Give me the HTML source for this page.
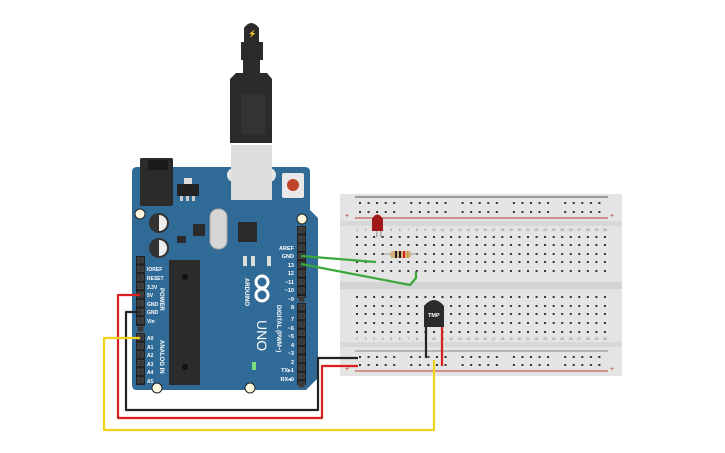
<!DOCTYPE html>
<html><head><meta charset="utf-8"><style>
html,body{margin:0;padding:0;background:#fff;width:725px;height:453px;overflow:hidden}
svg{display:block}
text{font-family:"Liberation Sans",sans-serif}
</style></head><body>
<svg id="s" width="725" height="453" viewBox="0 0 725 453" xmlns="http://www.w3.org/2000/svg">
<!-- breadboard -->
<rect x="340" y="194" width="282" height="182" fill="#e4e4e4" rx="2"/>
<rect x="340" y="221" width="282" height="5" fill="#d8d8d8"/>
<rect x="340" y="282" width="282" height="7" fill="#d4d4d4"/>
<rect x="340" y="342" width="282" height="5" fill="#d8d8d8"/>
<line x1="355" y1="197" x2="608" y2="197" stroke="#555" stroke-width="1"/>
<line x1="355" y1="218" x2="608" y2="218" stroke="#c0392b" stroke-width="1"/>
<line x1="355" y1="351" x2="608" y2="351" stroke="#888" stroke-width="1"/>
<line x1="355" y1="371" x2="608" y2="371" stroke="#c0392b" stroke-width="1"/>
<text x="345" y="218" font-size="7" fill="#c0392b">+</text>
<text x="610" y="218" font-size="7" fill="#c0392b">+</text>
<text x="345" y="371" font-size="7" fill="#c0392b">+</text>
<text x="610" y="371" font-size="7" fill="#c0392b">+</text>
<g id="dots"></g>
<!-- Arduino -->
<rect x="140" y="158" width="33" height="48" fill="#2b2b2b" rx="2"/>
<path d="M132 172 Q132 167 137 167 L305 167 Q310 167 310 172 L310 210 L318 218 L318 378 L306 390 L137 390 Q132 390 132 385 Z" fill="#306a97"/>
<rect x="140" y="158" width="33" height="48" fill="#2b2b2b" rx="2"/>
<rect x="148" y="160" width="20" height="10" fill="#1a1a1a"/>
<rect x="177" y="184" width="22" height="12" fill="#222"/>
<rect x="184" y="178" width="8" height="6" fill="#ddd"/>
<rect x="180" y="196" width="3" height="5" fill="#ccc"/><rect x="186" y="196" width="3" height="5" fill="#ccc"/><rect x="192" y="196" width="3" height="5" fill="#ccc"/>
<rect x="282" y="173" width="22" height="25" fill="#e8e8e8" rx="2"/>
<circle cx="293" cy="185" r="6" fill="#c0452a"/>
<circle cx="140" cy="214" r="5" fill="#fff8e0" stroke="#222"/>
<circle cx="302" cy="219" r="5" fill="#fff8e0" stroke="#222"/>
<circle cx="157" cy="388" r="5" fill="#fff8e0" stroke="#222"/>
<circle cx="250" cy="388" r="5" fill="#fff8e0" stroke="#222"/>
<circle cx="159" cy="223" r="9" fill="#eee" stroke="#333" stroke-width="2"/><path d="M159 214 A9 9 0 0 0 159 232 Z" fill="#333"/>
<circle cx="159" cy="248" r="9" fill="#eee" stroke="#333" stroke-width="2"/><path d="M159 239 A9 9 0 0 0 159 257 Z" fill="#333"/>
<rect x="210" y="209" width="17" height="40" rx="8" fill="#d6d6d6" stroke="#aaa"/>
<rect x="193" y="224" width="12" height="12" fill="#2b2b2b"/>
<rect x="177" y="236" width="9" height="7" fill="#2b2b2b"/>
<rect x="238" y="222" width="19" height="20" fill="#2b2b2b"/>
<rect x="169" y="260" width="31" height="125" fill="#2b2b2b"/>
<circle cx="185" cy="277" r="3" fill="#111"/><circle cx="185" cy="367" r="3" fill="#111"/>
<rect x="243" y="256" width="4" height="10" fill="#ddd"/><rect x="251" y="256" width="4" height="10" fill="#ddd"/><rect x="267" y="256" width="4" height="10" fill="#ddd"/>
<rect x="252" y="362" width="4" height="8" fill="#7be07b"/>
<!-- headers -->
<rect x="297" y="226" width="9" height="72" fill="#222"/>
<rect x="297" y="303" width="9" height="82" fill="#222"/>
<rect x="136" y="256" width="9" height="70" fill="#222"/>
<rect x="136" y="333" width="9" height="52" fill="#222"/>
<g id="pins"></g>
<g font-size="5.5" fill="#fff" font-weight="bold" text-anchor="end">
<text x="294" y="250">AREF</text><text x="294" y="258">GND</text><text x="294" y="267">13</text><text x="294" y="275">12</text><text x="294" y="284">~11</text><text x="294" y="292">~10</text><text x="294" y="301">~9</text><text x="294" y="309">8</text>
<text x="294" y="321">7</text><text x="294" y="330">~6</text><text x="294" y="338">~5</text><text x="294" y="347">4</text><text x="294" y="355">~3</text><text x="294" y="364">2</text><text x="294" y="372">TX▸1</text><text x="294" y="381">RX◂0</text>
</g>
<g font-size="5" fill="#fff" font-weight="bold">
<text x="147" y="271">IOREF</text><text x="147" y="280">RESET</text><text x="147" y="289">3.3V</text><text x="147" y="297">5V</text><text x="147" y="306">GND</text><text x="147" y="314">GND</text><text x="147" y="323">Vin</text>
<text x="147" y="340">A0</text><text x="147" y="349">A1</text><text x="147" y="357">A2</text><text x="147" y="366">A3</text><text x="147" y="374">A4</text><text x="147" y="383">A5</text>
</g>
<text transform="translate(160,288) rotate(90)" font-size="6" fill="#fff" font-weight="bold">POWER</text>
<text transform="translate(160,340) rotate(90)" font-size="6" fill="#fff" font-weight="bold">ANALOG IN</text>
<text transform="translate(277,305) rotate(90)" font-size="6" fill="#fff" font-weight="bold">DIGITAL (PWM~)</text>
<text transform="translate(245,278) rotate(90)" font-size="6" fill="#fff" font-weight="bold">ARDUINO</text>
<text transform="translate(257,320) rotate(90)" font-size="14" fill="#fff">UNO</text>
<g fill="none" stroke="#fff" stroke-width="3"><circle cx="262" cy="282" r="6"/><circle cx="262" cy="295" r="6"/></g>
<!-- USB -->
<rect x="231" y="145" width="41" height="55" fill="#dcdcdc"/>
<rect x="227" y="168" width="49" height="14" rx="7" fill="#e6e6e6"/>
<rect x="231" y="145" width="41" height="55" fill="#dcdcdc"/>
<path d="M244 42 L244 28 Q251 18 259 28 L259 42 Z" fill="#2b2b2b"/>
<rect x="241" y="42" width="22" height="18" fill="#2b2b2b"/>
<rect x="243" y="60" width="17" height="14" fill="#2b2b2b"/>
<path d="M236 73 L267 73 L272 79 L272 143 L230 143 L230 79 Z" fill="#2b2b2b"/>
<rect x="241" y="94" width="24" height="40" fill="#333"/>
<text x="248" y="36" font-size="7" fill="#f1c40f">⚡</text>
<!-- wires -->
<g fill="none" stroke-width="2.2" stroke-linejoin="round">
<polyline points="140,295 118,295 118,418 322,418 322,366 358,366" stroke="#d91e1e"/>
<polyline points="140,312 126,312 126,410 318,410 318,358 358,358" stroke="#222"/>
<polyline points="140,338 104,338 104,430 434,430 434,360" stroke="#f2d21b"/>
<polyline points="301,256 376,262" stroke="#3aa83a"/>
<polyline points="301,264 410,285 416,278 416,271" stroke="#3aa83a"/>
<line x1="426" y1="325" x2="426" y2="358" stroke="#222"/>
<line x1="442" y1="325" x2="442" y2="366" stroke="#d91e1e"/>
</g>
<!-- TMP -->
<path d="M424 327 L424 306 Q434 294 444 306 L444 327 Z" fill="#2b2b2b"/>
<text x="428" y="317" font-size="5.5" fill="#fff" font-weight="bold">TMP</text>
<!-- LED -->
<rect x="376" y="226" width="1.5" height="11" fill="#aaa"/><rect x="380" y="226" width="1.5" height="11" fill="#aaa"/>
<path d="M372 231 L372 219 Q377 210 383 219 L383 231 Z" fill="#a01818"/>
<!-- resistor -->
<line x1="384" y1="254" x2="417" y2="254" stroke="#aaa" stroke-width="1.2"/>
<rect x="390" y="251" width="21" height="7" rx="3" fill="#d8b07a"/>
<rect x="395" y="251" width="2" height="7" fill="#222"/><rect x="399" y="251" width="2" height="7" fill="#222"/><rect x="403" y="251" width="2" height="7" fill="#d92020"/><rect x="407" y="251" width="1.5" height="7" fill="#c9a13b"/>
</svg>
<script>
var ns="http://www.w3.org/2000/svg",g=document.getElementById("dots"),h="";
var x0=357,dx=8.55;
var rows=[237,245,254,262,271,297,306,314,323,332];
for(var c=0;c<30;c++){var x=x0+c*dx;
 for(var r=0;r<rows.length;r++)h+='<rect x="'+(x-1)+'" y="'+(rows[r]-1)+'" width="2" height="2" fill="#333"/>';
 h+='<text x="'+x+'" y="231" font-size="3.5" fill="#777" text-anchor="middle">'+(c+1)+'</text>';
 h+='<text x="'+x+'" y="340" font-size="3.5" fill="#777" text-anchor="middle">'+(c+1)+'</text>';
 if(c%6!=5){[203,212,357,365].forEach(function(y){h+='<rect x="'+(x+2)+'" y="'+(y-1)+'" width="2" height="2" fill="#333"/>';});}
}
g.innerHTML=h;
var p=document.getElementById("pins"),q="";
function col(x,y1,y2){for(var y=y1;y<y2;y+=8.6)q+='<rect x="'+(x+1.5)+'" y="'+(y+1.5)+'" width="6" height="5.5" fill="#3a3a3a" stroke="#555" stroke-width="0.5"/>';}
col(297,226,297);col(297,303,384);col(136,256,325);col(136,333,384);
p.innerHTML=q;
</script>
</body></html>
